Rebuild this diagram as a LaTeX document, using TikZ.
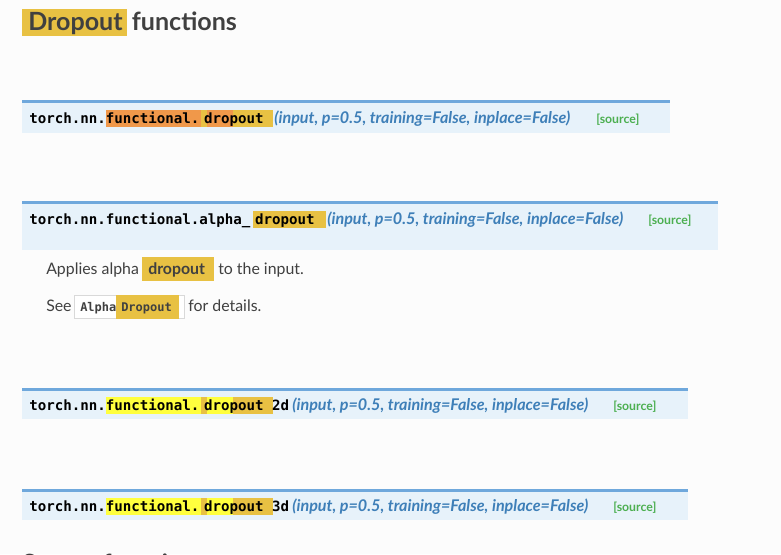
\documentclass[tikz,border=0pt]{standalone}
\usepackage{fontspec}
\setmainfont{Lato}
\newfontfamily\monof{DejaVu Sans Mono}
\begin{document}
\begin{tikzpicture}[x=0.75pt,y=-0.75pt,
  txt/.style={anchor=base west,inner sep=0pt},
  mono/.style={txt,font=\monof\bfseries\fontsize{10.6}{12}\selectfont,text=black},
  sig/.style={txt,font=\bfseries\itshape\fontsize{12.1}{14}\selectfont,text=sigblue},
  src/.style={txt,font=\bfseries\fontsize{9.2}{11}\selectfont,text=srcgreen},
  body/.style={txt,font=\fontsize{11.9}{14}\selectfont,text=bodygray}]
\definecolor{bg}{HTML}{FCFCFC}
\definecolor{boxbg}{HTML}{E7F2FA}
\definecolor{boxline}{HTML}{6FA8DC}
\definecolor{gold}{HTML}{E8C143}
\definecolor{orng}{HTML}{F0984A}
\definecolor{yel}{HTML}{FFFF3E}
\definecolor{sigblue}{HTML}{3E7FB8}
\definecolor{srcgreen}{HTML}{4CAF50}
\definecolor{bodygray}{HTML}{404040}
\fill[bg] (0,0) rectangle (781,554);
\clip (0,0) rectangle (781,554);
% heading
\fill[gold] (22,9) rectangle (127,36);
\node[txt,font=\bfseries\fontsize{18.8}{22}\selectfont,text=bodygray] (h) at (28,30) {Dropout\hspace{7pt}functions};
% box 1
\fill[boxbg] (22,101) rectangle (670,133);
\fill[boxline] (22,100) rectangle (670,103);
\fill[orng] (106,110) rectangle (233,127);
\fill[gold] (201,110) rectangle (207,127);
\fill[gold] (233,110) rectangle (273,127);
\node[mono] (l1) at (29,123) {torch.nn.functional.\hspace{3.5pt}dropout};
\node[sig] (s1) at (274,123) {(input, p=0.5, training=False, inplace=False)};
\node[src] (r1) at (596,123) {[source]};
% box 2
\fill[boxbg] (22,202) rectangle (718,250);
\fill[boxline] (22,201) rectangle (718,204);
\fill[gold] (253,211) rectangle (326,228);
\node[mono] (l2) at (29,224) {torch.nn.functional.alpha\_\hspace{3.5pt}dropout};
\node[sig] (s2) at (327,224) {(input, p=0.5, training=False, inplace=False)};
\node[src] (r2) at (648,224) {[source]};
\fill[gold] (142,257) rectangle (214,281);
\node[body] (b1) at (46,274) {Applies alpha};
\node[body] (b1b) at (148,274) {\textbf{dropout}};
\node[body] (b1c) at (218,274) {to the input.};
\draw[draw=black!15,fill=white] (74.5,295.5) rectangle (184.5,318.5);
\fill[gold] (116,295) rectangle (179,319);
\node[body] (b2) at (46,311) {See};
\node[txt,font=\monof\bfseries\fontsize{9}{10}\selectfont,text=bodygray] (c2) at (80,311) {Alpha};
\node[txt,font=\monof\bfseries\fontsize{9}{10}\selectfont,text=bodygray] (c3) at (121,311) {Dropout};
\node[body] (b3) at (188,311) {for details.};
% box 3
\fill[boxbg] (22,389) rectangle (688,419);
\fill[boxline] (22,388) rectangle (688,391);
\fill[yel] (106,397) rectangle (233,414);
\fill[gold] (201,397) rectangle (207,414);
\fill[gold] (233,397) rectangle (273,414);
\node[mono] (l3) at (29,410) {torch.nn.functional.\hspace{3.5pt}dropout 2d};
\node[sig] (s3) at (292,410) {(input, p=0.5, training=False, inplace=False)};
\node[src] (r3) at (613,410) {[source]};
% box 4
\fill[boxbg] (22,490) rectangle (688,520);
\fill[boxline] (22,489) rectangle (688,492);
\fill[yel] (106,498) rectangle (233,515);
\fill[gold] (201,498) rectangle (207,515);
\fill[gold] (233,498) rectangle (273,515);
\node[mono] (l4) at (29,511) {torch.nn.functional.\hspace{3.5pt}dropout 3d};
\node[sig] (s4) at (292,511) {(input, p=0.5, training=False, inplace=False)};
\node[src] (r4) at (613,511) {[source]};
% cut-off heading
\node[txt,font=\bfseries\fontsize{18.8}{22}\selectfont,text=bodygray] (h2) at (22,572) {Sparse functions};
\end{tikzpicture}
\end{document}
